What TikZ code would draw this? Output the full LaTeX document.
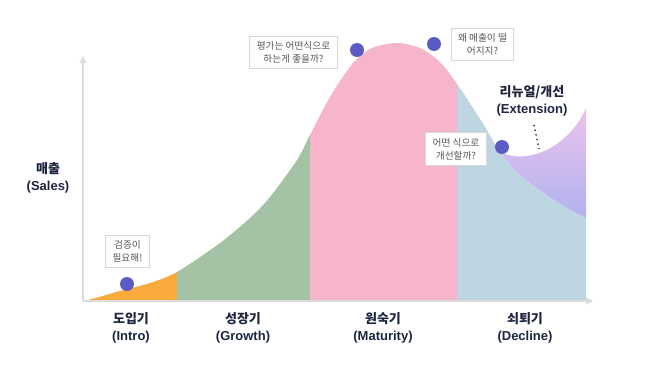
\documentclass[tikz,border=0pt]{standalone}
\usepackage{fontspec}
\setmainfont{Liberation Sans}
\newfontfamily\kr{Noto Sans CJK KR}
\usetikzlibrary{arrows.meta}

\definecolor{introcol}{HTML}{F8AA3A}
\definecolor{growthcol}{HTML}{A4C2A4}
\definecolor{maturecol}{HTML}{F7B5CB}
\definecolor{declinecol}{HTML}{BDD6E1}
\definecolor{exttop}{HTML}{EBC3EC}
\definecolor{extbot}{HTML}{ABB0F0}
\definecolor{dotcol}{HTML}{5B5BC5}
\definecolor{navy}{HTML}{1D2541}
\definecolor{boxtext}{HTML}{555555}
\definecolor{boxline}{HTML}{D8D8D8}
\definecolor{axiscol}{HTML}{DCDCDC}

% curva de ventas (coordenadas en pixeles)
\newcommand{\salescurve}{plot[smooth,tension=0.5] coordinates {(85,301) (120,291) (150,283) (177,272) (220,243) (250,218) (270,197) (297,160) (310,135) (330,97) (353,63) (372,48) (397,43) (420,48) (440,62) (457,84) (482,122) (500,152) (520,175) (540,190) (562,205) (586,218)}}

\tikzset{
    qbox/.style={draw=boxline, fill=white, line width=0.6pt, text=boxtext, align=center,
        inner xsep=4pt, inner ysep=3pt, font=\kr\fontsize{5.5}{7.5}\selectfont},
    phase/.style={text=navy, align=center, font=\bfseries\fontsize{7.4}{10}\selectfont},
    qdot/.style={fill=dotcol, circle, inner sep=0pt, minimum size=14*0.02cm}
}

\begin{document}
\begin{tikzpicture}[x=0.02cm, y=-0.02cm]
    \useasboundingbox (0,0) rectangle (650,365);

    % fases
    \begin{scope}
        \clip (80,0) rectangle (177,310);
        \fill[introcol] \salescurve -- (586,301) -- (85,301) -- cycle;
    \end{scope}
    \begin{scope}
        \clip (177,0) rectangle (310,310);
        \fill[growthcol] \salescurve -- (586,301) -- (85,301) -- cycle;
    \end{scope}
    \begin{scope}
        \clip (310,0) rectangle (457,310);
        \fill[maturecol] \salescurve -- (586,301) -- (85,301) -- cycle;
    \end{scope}
    \begin{scope}
        \clip (457,0) rectangle (586,310);
        \fill[declinecol] \salescurve -- (586,301) -- (85,301) -- cycle;
    \end{scope}

    % extension (solo encima de la curva)
    \begin{scope}
        \clip \salescurve -- (600,218) -- (600,0) -- (85,0) -- cycle;
        \shade[top color=exttop, bottom color=extbot]
            (500,152) .. controls (530,166) and (570,145) .. (586,108)
            -- (586,230) -- (500,230) -- cycle;
    \end{scope}

    % ejes
    \draw[axiscol, line width=0.8pt, -{Triangle[length=4pt,width=4pt]}] (83,301) -- (593,301);
    \draw[axiscol, line width=0.8pt, -{Triangle[length=4pt,width=4pt]}] (83,301) -- (83,56);

    \node[phase] (sales) at (48,178) {{\kr 매출}\\(Sales)};
    \node[phase] (intro) at (131,328) {{\kr 도입기}\\(Intro)};
    \node[phase] (growth) at (243,328) {{\kr 성장기}\\(Growth)};
    \node[phase] (maturity) at (383,328) {{\kr 원숙기}\\(Maturity)};
    \node[phase] (decline) at (525,328) {{\kr 쇠퇴기}\\(Decline)};
    \node[phase] (ext) at (532,101) {{\kr 리뉴얼/개선}\\(Extension)};

    \coordinate (extstart) at (534,125);
    \coordinate (extend) at (539,149);
    \draw[black, dotted, line width=0.7pt] (extstart) -- (extend);

    % preguntas
    \node[qbox] (q1) at (127.5,251.5) {검증이\\필요해!};
    \node[qbox] (q2) at (293.5,52.5) {평가는 어떤식으로\\하는게 좋을까?};
    \node[qbox] (q3) at (482.5,44.5) {왜 매출이 떨\\어지지?};
    \node[qbox] (q4) at (456,149) {어떤 식으로\\개선할까?};

    \node[qdot] (d1) at (127,284) {};
    \node[qdot] (d2) at (357,50) {};
    \node[qdot] (d3) at (434,44) {};
    \node[qdot] (d4) at (502,147) {};
\end{tikzpicture}
\end{document}
